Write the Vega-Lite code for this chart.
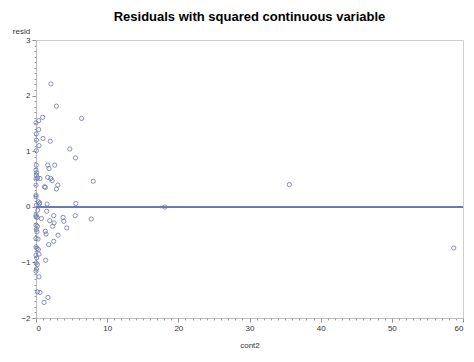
{
  "$schema": "https://vega.github.io/schema/vega-lite/v6.json",
  "width": 427,
  "height": 278,
  "autosize": {"type": "none"},
  "padding": {"left": 36, "top": 40, "right": 11, "bottom": 44},
  "background": "white",
  "config": {
    "view": {"stroke": "#cfcfcf", "strokeWidth": 1},
    "font": "Liberation Sans"
  },
  "title": {
    "text": "Residuals with squared continuous variable",
    "font": "Liberation Sans",
    "fontSize": 13,
    "fontWeight": "bold",
    "color": "#000000",
    "anchor": "middle",
    "offset": 3
  },
  "data": {
    "values": [
      {"cont2": 2.1, "resid": 2.21},
      {"cont2": 2.87, "resid": 1.81},
      {"cont2": 6.4, "resid": 1.59},
      {"cont2": 0.0, "resid": 1.51},
      {"cont2": 0.38, "resid": 1.55},
      {"cont2": 0.94, "resid": 1.61},
      {"cont2": 0.38, "resid": 1.39},
      {"cont2": 0.05, "resid": 1.31},
      {"cont2": 0.99, "resid": 1.23},
      {"cont2": 0.05, "resid": 1.2},
      {"cont2": 2.0, "resid": 1.18},
      {"cont2": 0.42, "resid": 1.1},
      {"cont2": 0.05, "resid": 1.01},
      {"cont2": 4.75, "resid": 1.04},
      {"cont2": 5.55, "resid": 0.88},
      {"cont2": 8.04, "resid": 0.46},
      {"cont2": 0.05, "resid": 0.75},
      {"cont2": 1.65, "resid": 0.75},
      {"cont2": 2.63, "resid": 0.75},
      {"cont2": 1.83, "resid": 0.69},
      {"cont2": 0.0, "resid": 0.66},
      {"cont2": 0.1, "resid": 0.61},
      {"cont2": 0.05, "resid": 0.57},
      {"cont2": 0.23, "resid": 0.52},
      {"cont2": 0.56, "resid": 0.51},
      {"cont2": 0.0, "resid": 0.5},
      {"cont2": 1.65, "resid": 0.53},
      {"cont2": 2.07, "resid": 0.51},
      {"cont2": 2.26, "resid": 0.47},
      {"cont2": 3.06, "resid": 0.39},
      {"cont2": 2.87, "resid": 0.32},
      {"cont2": 1.18, "resid": 0.36},
      {"cont2": 1.32, "resid": 0.35},
      {"cont2": 0.0, "resid": 0.39},
      {"cont2": 0.0, "resid": 0.21},
      {"cont2": 0.0, "resid": 0.18},
      {"cont2": 0.33, "resid": 0.09},
      {"cont2": 0.52, "resid": 0.07},
      {"cont2": 0.05, "resid": 0.03},
      {"cont2": 0.47, "resid": 0.05},
      {"cont2": 1.55, "resid": 0.05},
      {"cont2": 5.6, "resid": 0.06},
      {"cont2": 0.23, "resid": -0.06},
      {"cont2": 1.5, "resid": -0.08},
      {"cont2": 0.0, "resid": -0.15},
      {"cont2": 0.0, "resid": -0.18},
      {"cont2": 0.14, "resid": -0.19},
      {"cont2": 0.75, "resid": -0.21},
      {"cont2": 2.49, "resid": -0.16},
      {"cont2": 3.8, "resid": -0.19},
      {"cont2": 5.5, "resid": -0.16},
      {"cont2": 7.76, "resid": -0.22},
      {"cont2": 1.93, "resid": -0.25},
      {"cont2": 3.9, "resid": -0.26},
      {"cont2": 2.54, "resid": -0.29},
      {"cont2": 0.0, "resid": -0.33},
      {"cont2": 0.19, "resid": -0.35},
      {"cont2": 2.35, "resid": -0.35},
      {"cont2": 0.05, "resid": -0.41},
      {"cont2": 4.33, "resid": -0.38},
      {"cont2": 1.32, "resid": -0.44},
      {"cont2": 1.41, "resid": -0.49},
      {"cont2": 3.1, "resid": -0.51},
      {"cont2": 0.14, "resid": -0.45},
      {"cont2": 0.0, "resid": -0.57},
      {"cont2": 0.28, "resid": -0.58},
      {"cont2": 2.49, "resid": -0.62},
      {"cont2": 1.79, "resid": -0.68},
      {"cont2": 0.0, "resid": -0.72},
      {"cont2": 0.14, "resid": -0.75},
      {"cont2": 0.33, "resid": -0.77},
      {"cont2": 0.0, "resid": -0.87},
      {"cont2": 0.42, "resid": -0.85},
      {"cont2": 0.1, "resid": -0.92},
      {"cont2": 1.36, "resid": -0.96},
      {"cont2": 0.0, "resid": -1.01},
      {"cont2": 0.19, "resid": -1.04},
      {"cont2": 0.05, "resid": -1.12},
      {"cont2": 0.0, "resid": -1.16},
      {"cont2": 0.42, "resid": -1.26},
      {"cont2": 0.19, "resid": -1.53},
      {"cont2": 0.56, "resid": -1.54},
      {"cont2": 1.69, "resid": -1.63},
      {"cont2": 1.13, "resid": -1.72},
      {"cont2": 18.1, "resid": -0.005},
      {"cont2": 35.6, "resid": 0.4},
      {"cont2": 58.7, "resid": -0.74}
    ]
  },
  "resolve": {"axis": {"x": "independent", "y": "independent"}},
  "layer": [
    {
      "mark": {"type": "point", "shape": "circle", "filled": false, "size": 18, "strokeWidth": 0.8, "color": "#6b74ae", "opacity": 1},
      "encoding": {
        "x": {
          "field": "cont2", "type": "quantitative",
          "scale": {"domain": [0, 60], "nice": false, "zero": false},
          "axis": {
            "orient": "bottom", "values": [0, 10, 20, 30, 40, 50, 60], "grid": false,
            "domainColor": "#bdbdbd", "tickColor": "#8a8a8a", "tickSize": 4,
            "labelFont": "Liberation Sans", "labelFontSize": 8, "labelColor": "#333333", "labelPadding": 2,
            "title": "cont2", "titleFont": "Liberation Sans", "titleFontSize": 8, "titleFontWeight": "normal",
            "titleColor": "#333333", "titlePadding": 9
          }
        },
        "y": {
          "field": "resid", "type": "quantitative",
          "scale": {"domain": [-2, 3], "nice": false, "zero": false},
          "axis": {
            "orient": "left", "values": [-2, -1, 0, 1, 2, 3], "grid": false,
            "domainColor": "#bdbdbd", "tickColor": "#8a8a8a", "tickSize": 4,
            "labelFont": "Liberation Sans", "labelFontSize": 8, "labelColor": "#333333", "labelPadding": 2,
            "title": "resid", "titleFont": "Liberation Sans", "titleFontSize": 8, "titleFontWeight": "normal",
            "titleColor": "#333333", "titleAngle": 0, "titleX": -15, "titleY": -5,
            "titleAlign": "center", "titleBaseline": "bottom"
          }
        }
      }
    },
    {
      "mark": {"type": "point", "opacity": 0},
      "encoding": {
        "x": {
          "field": "cont2", "type": "quantitative",
          "axis": {
            "orient": "bottom", "grid": false, "labels": false, "domain": false, "title": null,
            "tickColor": "#a0a0a0", "tickSize": 2,
            "values": [0,1,2,3,4,5,6,7,8,9,10,11,12,13,14,15,16,17,18,19,20,21,22,23,24,25,26,27,28,29,30,31,32,33,34,35,36,37,38,39,40,41,42,43,44,45,46,47,48,49,50,51,52,53,54,55,56,57,58,59,60]
          }
        },
        "y": {
          "field": "resid", "type": "quantitative",
          "axis": {
            "orient": "left", "grid": false, "labels": false, "domain": false, "title": null,
            "tickColor": "#a0a0a0", "tickSize": 2,
            "values": [-2,-1.9,-1.8,-1.7,-1.6,-1.5,-1.4,-1.3,-1.2,-1.1,-1,-0.9,-0.8,-0.7,-0.6,-0.5,-0.4,-0.3,-0.2,-0.1,0,0.1,0.2,0.3,0.4,0.5,0.6,0.7,0.8,0.9,1,1.1,1.2,1.3,1.4,1.5,1.6,1.7,1.8,1.9,2,2.1,2.2,2.3,2.4,2.5,2.6,2.7,2.8,2.9,3]
          }
        }
      }
    },
    {
      "mark": {"type": "rule", "color": "#6a7cb3", "strokeWidth": 0.8},
      "encoding": {
        "y": {"datum": 0, "type": "quantitative", "axis": null}
      }
    }
  ]
}
